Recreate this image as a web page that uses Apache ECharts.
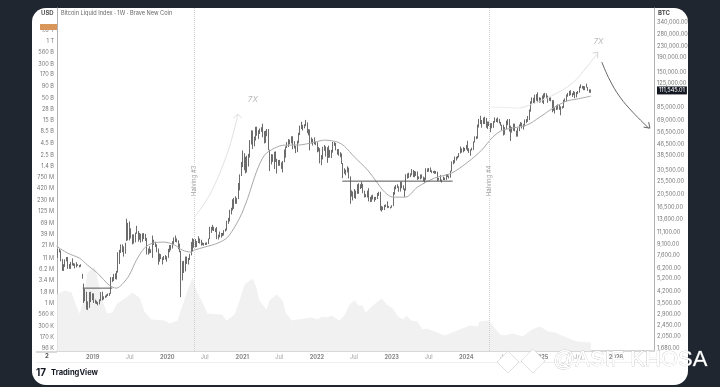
<!DOCTYPE html>
<html>
<head>
<meta charset="utf-8">
<style>
html, body { margin: 0; padding: 0; background: #1f2630; }
#box { width: 720px; height: 387px; filter: blur(0.55px); }
</style>
<script src="https://cdn.jsdelivr.net/npm/echarts@6/dist/echarts.min.js"></script>
</head>
<body>
<div id="box"></div>
<script>
// weekly bars, one value per week from the week of 2018-07-16
var firstWeek = Date.UTC(2018, 6, 16);
var firstOpen = 7400;
var weekClose = [
    // 2018
    8220,8170,7030,6310,6480,7050,7270,6250,6490,6700,6620,6590,6300,6540,6480,6370,6350,5560,4000,4100,3200,3240,3980,3700,
    // 2019
    4030,3510,3540,3530,3460,3660,3670,3800,3820,3920,3990,3980,4100,5060,5160,5310,5280,5770,6990,8000,8740,8700,7970,8980,10700,10800,
    11480,10190,10300,9530,10820,11280,10300,10130,9630,10400,10310,10030,8040,7990,8270,8230,9530,9200,9040,8500,7050,7420,7510,7060,7190,7320,
    // 2020
    7410,8180,8700,8600,9340,10160,9930,9670,8530,8040,5360,5830,5920,6770,6910,7130,7700,8900,8750,9670,8790,9450,9760,9330,9300,9120,
    9070,9300,9210,9930,11050,11680,11910,11650,11710,10280,10330,10920,10770,10670,11380,11500,13030,13740,15480,15960,18680,18180,19150,19270,23000,26270,
    // 2021
    32200,38200,35800,32300,33100,38900,48900,57500,45200,51000,59000,57500,55800,58200,59800,56200,49000,56600,58200,46400,34700,34600,35800,39000,35600,34500,
    35300,34300,31500,35400,39900,43800,47000,49300,48800,51800,45200,47300,43200,48200,54700,61500,60900,61300,63300,65500,58700,57200,49400,50100,46700,50800,
    // 2022
    47700,41900,43100,36300,37900,42400,42200,38400,37700,38400,37800,41300,46800,46000,42200,39700,39500,38500,34000,31300,30300,29500,29900,26600,20600,21000,
    19300,20800,20800,22600,23300,23200,24300,21500,19600,20000,21800,19400,18800,19000,19400,19300,19600,20600,20900,16300,16300,16400,17100,17100,16800,16800,
    // 2023
    16600,17100,20900,22700,23800,23000,21800,24300,23600,22400,22100,28000,27900,28500,28300,30300,27600,29200,28900,26900,26800,28100,27100,25900,26300,30500,
    30600,30300,30250,30000,29300,29000,29300,26200,26000,25900,25800,26500,26300,28000,27900,27100,29900,34500,35000,37100,37400,37500,39500,43800,41400,43000,42300,
    // 2024
    44000,41800,41600,42000,43000,48300,51600,51700,63100,69000,68400,67200,71300,69400,65700,64900,63100,64000,61500,66900,68500,67800,69600,66600,64300,62700,
    58200,60800,68200,68300,58100,58700,58400,64200,57300,54800,59200,63400,65600,62800,62900,69000,67000,68800,80400,89800,97700,96400,101200,104500,95100,93700,
    // 2025
    98300,94500,101100,102600,100600,96500,96100,96300,94200,80700,82600,86000,82400,78200,83700,85200,93800,94300,104100,106400,109000,105700,105700,105500,100900,108400,
    109200,119000,117300,119400,114200,119300,117500,113500,108300,111545
];
var weekHigh = [
    // 2018
    8480,8450,8240,7150,6580,7120,7400,7400,6600,6830,7230,6700,6650,6800,6580,6500,6580,5620,4800,4400,4200,3590,4180,4200,
    // 2019
    4100,4090,3700,3630,3560,3720,4180,4210,3900,3950,4030,4080,4130,5340,5330,5620,5670,5900,8000,8320,9080,9090,8800,9330,13800,12900,
    13200,11800,10700,10700,11000,12300,11300,10950,10800,10900,10920,10780,10100,8500,8800,8400,10500,9800,9500,9100,8500,7830,7750,7370,7520,7630,
    // 2020
    7500,8450,9000,8990,9570,10170,10500,10030,9700,9190,8180,6900,6950,7450,7460,7300,7780,9460,10050,9900,9900,9600,10380,10000,9800,9380,
    9300,9350,9400,10000,12100,12080,12480,12100,11800,12050,10650,11200,10950,10950,11450,11750,13350,14000,15960,16500,18950,19400,19900,19400,24700,28400,
    // 2021
    34800,41950,40100,37850,38500,39700,49700,58350,58000,52600,61700,61800,58400,60000,61300,64900,57500,57900,59500,59500,42500,39500,39400,41100,41300,36600,
    35950,35950,34600,35400,42600,44800,48100,50500,50100,52900,52900,48800,45200,49200,56000,62900,67000,63700,64300,69000,66300,59400,59100,51900,50700,51900,
    // 2022
    48500,47900,44400,43500,38900,44500,45800,44800,44200,45400,42400,42300,48200,48100,47400,42900,42900,40800,40000,34200,31400,30700,32400,31700,27500,21900,
    21500,22400,21800,24200,24600,24200,25200,24400,21800,20600,21800,22700,19700,20200,20400,19700,19700,21000,21400,21400,17000,16800,17300,17400,18300,17000,
    // 2023
    16800,17200,21300,23300,23900,24200,23400,25200,25200,23800,22600,28500,28900,29200,28900,31000,30500,30000,29800,29800,27500,28400,28400,27400,27000,31400,
    31300,31500,31800,30400,30000,30200,30000,29700,26800,28100,26100,27400,27000,28600,28600,27900,30200,35100,35900,38000,37900,38400,40200,44700,43400,44300,43800,
    // 2024
    45900,49100,43500,42800,43900,48600,52800,52900,64000,70100,73800,68900,71700,72700,71300,67200,67200,65500,65500,67700,71900,70600,71900,70100,66800,63800,
    63800,61300,68300,70000,70000,62800,61500,65000,64900,58000,60600,64100,66500,66000,64400,69500,70000,73600,81800,93500,99500,98900,104000,105000,108300,99900,
    // 2025
    99000,102700,106000,107200,106400,102500,99500,99500,95200,95000,84500,87400,88800,88500,86100,86400,95800,97900,104400,107100,110800,112000,106800,110500,109000,108800,
    110500,119000,123200,120200,119800,119300,124500,117700,113600,113400
];
var weekLow = [
    // 2018
    7300,7980,6900,5900,5900,6300,6900,6100,6100,6100,6450,6400,6150,6250,6400,6250,6300,5200,3500,3600,3150,3120,3230,3550,
    // 2019
    3660,3500,3470,3440,3370,3420,3610,3650,3700,3800,3840,3920,3930,4060,4920,5000,5160,5120,5740,6600,7900,8000,7450,7800,9600,9700,
    9700,10000,9100,9200,9400,10800,9500,9800,9350,9500,9900,9600,7700,7700,7850,7900,7300,9000,8700,8000,6530,6850,7150,6550,7050,7100,
    // 2020
    6850,7300,8000,8250,8500,9100,9450,9400,8400,8000,3850,5050,5700,5850,6600,6550,7050,7600,8100,8600,8650,8700,9300,9200,8900,8980,
    8900,9000,9000,9150,9900,10950,11400,11300,11100,9900,9850,10200,10150,10400,10500,11200,11400,12700,13200,14800,15800,16200,17600,17600,19000,21900,
    // 2021
    27700,32000,30400,28900,29300,32300,37400,46200,43000,44900,49300,53300,50500,54900,56800,52000,47000,47500,52900,42100,30000,33400,34800,31000,34800,28800,
    32700,32700,31100,29300,34600,37300,43700,44400,46400,47100,42800,43400,40200,40800,47100,53900,59500,58000,60200,62300,55600,53600,42000,47100,45500,46400,
    // 2022
    45700,40700,41200,34000,33000,36300,41700,38000,34300,37200,37300,37100,40500,45200,42000,39200,38500,37600,33700,26700,28700,28000,29300,26600,17600,19800,
    18600,19300,19100,20700,20700,22400,22700,20900,19500,19600,19500,18300,18100,18200,18900,18200,18700,19000,20000,15800,15500,15900,15900,16700,16400,16500,
    // 2023
    16300,16500,17000,20400,22300,22800,21400,21500,22700,22100,19600,21800,26500,26800,27200,28000,27200,27100,27700,26000,26300,26200,26600,25400,24800,26000,
    29500,29700,29500,29000,29000,28700,28700,25400,25800,25400,24900,25900,25900,26000,27200,26600,26900,29800,33500,34100,35600,36700,37500,39900,40500,40700,41500,
    // 2024
    42600,41500,40300,38500,41900,42300,47800,50500,50900,61000,64500,60800,64500,64500,60700,59600,62400,56500,60200,60700,66000,66600,66100,65100,62800,58400,
    53500,54300,59600,63400,57100,49000,56100,57800,57200,52500,52600,57500,62500,60000,58900,62000,65500,66800,68800,78900,90000,90800,90500,94300,92200,91400,
    // 2025
    92000,91200,89300,99500,97800,91200,94100,93300,78200,80000,76600,81100,81600,81300,74400,83000,83900,92800,93500,100700,102100,103100,100400,103400,98200,99600,
    105100,107500,115700,114700,111900,112000,116800,110700,107300,107300
];

// moving average line
var maLine = [
    ['2018-07-08',8833],['2018-09-01',7880],['2018-10-29',7260],['2018-12-07',6480],['2019-01-25',5686],['2019-03-23',4680],
    ['2019-04-27',4457],['2019-05-26',4755],['2019-06-29',5504],['2019-08-03',7028],['2019-09-11',8550],['2019-10-20',9273],
    ['2019-12-18',9425],['2020-02-06',8975],['2020-03-15',8275],['2020-04-28',8010],['2020-05-12',8275],['2020-07-01',8690],
    ['2020-09-03',9273],['2020-10-22',10225],['2020-12-19',13930],['2021-01-28',19300],['2021-03-11',29480],['2021-04-20',38890],
    ['2021-06-08',43585],['2021-07-26',45770],['2021-09-29',45770],['2021-12-21',48060],['2022-02-09',49650],['2022-04-12',48060],
    ['2022-05-15',45000],['2022-07-04',37640],['2022-09-06',30450],['2022-10-24',24640],['2022-11-28',21280],['2023-01-07',19620],
    ['2023-03-10',19620],['2023-05-07',23090],['2023-07-29',26730],['2023-10-21',29000],['2024-01-08',34700],['2024-03-16',42190],
    ['2024-05-09',52140],['2024-06-27',58440],['2024-10-22',63400],['2024-12-25',72220],['2025-02-28',83630],['2025-05-05',93730],
    ['2025-06-24',96830],['2025-09-01',101680]
];

// liquidity area on the left scale
var liquidity = [
    ['2018-07-12',1600000],['2018-08-17',1980000],['2018-09-20',1780000],['2018-10-14',850000],['2018-10-29',590000],['2018-11-14',1000000],
    ['2018-12-07',5110000],['2019-01-11',6900000],['2019-01-25',3730000],['2019-02-18',1170000],['2019-03-13',590000],['2019-04-07',623000],
    ['2019-05-01',1000000],['2019-06-15',1370000],['2019-07-14',1780000],['2019-08-18',1370000],['2019-09-11',660000],['2019-10-15',431000],
    ['2019-12-18',409000],['2020-01-12',349000],['2020-02-20',409000],['2020-03-10',769000],['2020-04-09',1980000],['2020-05-03',3930000],
    ['2020-05-22',1980000],['2020-06-16',1170000],['2020-07-15',590000],['2020-09-23',561000],['2020-10-17',409000],['2020-11-25',561000],
    ['2020-12-19',1170000],['2021-01-13',2720000],['2021-02-22',3730000],['2021-03-11',2320000],['2021-03-26',1170000],['2021-04-30',729000],
    ['2021-05-14',1170000],['2021-06-18',1600000],['2021-07-17',1170000],['2021-08-01',623000],['2021-08-31',409000],['2021-09-29',431000],
    ['2021-12-07',479000],['2022-01-05',431000],['2022-01-25',505000],['2022-02-19',479000],['2022-03-13',532000],['2022-04-21',409000],
    ['2022-05-15',532000],['2022-06-09',949000],['2022-07-04',1170000],['2022-07-23',900000],['2022-08-12',900000],['2022-08-27',623000],
    ['2022-10-01',900000],['2022-11-14',1300000],['2022-12-08',949000],['2023-01-07',769000],['2023-02-01',505000],['2023-02-25',431000],
    ['2023-03-14',532000],['2023-04-08',409000],['2023-05-07',388000],['2023-06-01',254000],['2023-06-21',268000],['2023-07-29',229000],
    ['2023-09-17',186000],['2023-12-01',254000],['2024-01-18',314000],['2024-02-27',298000],['2024-03-06',388000],['2024-04-19',409000],
    ['2024-05-09',314000],['2024-06-13',196000],['2024-07-07',186000],['2024-08-15',206000],['2024-10-03',176000],['2024-11-16',254000],
    ['2024-12-25',298000],['2025-02-04',229000],['2025-03-08',217000],['2025-05-05',167000],['2025-06-24',135000],['2025-09-01',128000]
];

// hand drawn notes on the chart
var leftCurve = [['2020-05-12',14160],['2020-07-01',17790],['2020-08-19',23850],['2020-10-22',40830],['2020-11-25',60370],['2020-12-10',74610]];
var leftHead = [['2020-11-20',71050],['2020-12-10',75830],['2020-12-29',71050]];
var rightFlat = [['2024-05-04',85000],['2024-09-18',83630]];
var rightCurve = [['2024-09-18',83630],['2024-11-07',88040],['2025-02-28',103350],['2025-06-02',125660],['2025-08-11',163100],['2025-10-04',204900]];
var rightHead = [['2025-09-10',204900],['2025-10-04',208300],['2025-10-04',188850]];
var dropCurve = [['2025-10-24',176900],['2025-12-02',131960],['2026-01-21',100040],['2026-03-24',78350],['2026-06-10',60370]];
var dropHead = [['2026-05-16',61365],['2026-06-16',60370],['2026-06-10',66570]];
var boxLow = [['2018-11-14',4457],['2019-04-07',4457]];
var boxMid = [['2022-05-05',25460],['2023-10-26',25460]];
var sevenX = [['2021-02-22',96830],['2025-10-08',245400]];
var halvings = [['2020-05-11',25600,'Halving #3'],['2024-04-20',25600,'Halving #4']];

// axis ticks
var priceNow = 111545;
var priceTicks = [340000,280000,230000,190000,150000,125000,priceNow,85000,69000,56500,46500,38500,30500,25500,20500,16500,13600,11100,9100,7600,6200,5200,4200,3500,2900,2450,2050,1680];
var liquidityTicks = [1.8e12,1e12,560e9,300e9,170e9,90e9,50e9,28e9,15e9,8.5e9,4.5e9,2.5e9,1.4e9,750e6,420e6,230e6,125e6,69e6,39e6,21e6,11e6,6.2e6,3.4e6,1.8e6,1e6,560e3,300e3,170e3,96e3];
var timeTicks = [['2019-01-01','2019'],['2019-07-01','Jul'],['2020-01-01','2020'],['2020-07-01','Jul'],['2021-01-01','2021'],['2021-07-01','Jul'],['2022-01-01','2022'],['2022-07-01','Jul'],['2023-01-01','2023'],['2023-07-01','Jul'],['2024-01-01','2024'],['2024-07-01','Jul'],['2025-01-01','2025'],['2025-07-01','Jul'],['2026-01-01','2026']];
var axisFloor = 1601;

var myChart = echarts.init(document.getElementById('box'));

var bars = [];
for (var i = 0; i < weekClose.length; i++) {
    bars.push([firstWeek + i * 604800000, i ? weekClose[i - 1] : firstOpen, weekClose[i], weekLow[i], weekHigh[i]]);
}

function note(data, color, width, type, smooth) {
    return {
        type: 'line',
        data: data,
        showSymbol: false,
        symbol: 'none',
        smooth: smooth || false,
        silent: true,
        lineStyle: { color: color, width: width, type: type || 'solid' },
        z: 4
    };
}

function liquidityLabel(v) {
    if (v >= 1e12) return +(v / 1e12).toFixed(1) + ' T';
    if (v >= 1e9) return +(v / 1e9).toFixed(1) + ' B';
    if (v >= 1e6) return +(v / 1e6).toFixed(1) + ' M';
    return Math.round(v / 1e3) + ' K';
}

function priceLabel(v) {
    if (Math.abs(v - priceNow) < 1) return '{now|111,545.01}';
    return '{tick|' + Math.round(v).toLocaleString('en-US') + '.00}';
}

var font = 'Inter, "Liberation Sans", sans-serif';

var option = {
    animation: false,
    useUTC: true,
    backgroundColor: '#1f2630',
    textStyle: { fontFamily: font },
    grid: { left: 57, right: 66, top: 8, bottom: 36 },
    xAxis: {
        type: 'time',
        min: Date.UTC(2018, 6, 11),
        max: Date.UTC(2026, 6, 6),
        axisLine: { show: true, lineStyle: { color: '#d8d8d8', width: 2 } },
        axisTick: { show: false },
        splitLine: { show: false },
        axisLabel: { show: false }
    },
    yAxis: [{
        type: 'log',
        position: 'right',
        min: axisFloor,
        max: 427000,
        axisLine: { show: true, lineStyle: { color: '#b0b0b0', width: 1 } },
        axisTick: { show: false },
        splitLine: { show: false },
        axisLabel: {
            customValues: priceTicks,
            hideOverlap: false,
            margin: 3,
            formatter: priceLabel,
            rich: {
                tick: { fontSize: 5.6, color: '#777' },
                now: { fontSize: 5.6, color: '#fff', backgroundColor: '#131722', padding: [1, 2] }
            }
        }
    }, {
        type: 'log',
        position: 'left',
        min: 82000,
        max: 5.68e12,
        axisLine: { show: true, lineStyle: { color: '#b0b0b0', width: 1 } },
        axisTick: { show: false },
        splitLine: { show: false },
        axisLabel: {
            customValues: liquidityTicks,
            hideOverlap: false,
            margin: 3,
            fontSize: 5.6,
            color: '#777',
            formatter: liquidityLabel
        }
    }],
    series: [
        {
            type: 'line',
            yAxisIndex: 1,
            data: liquidity,
            symbol: 'none',
            showSymbol: false,
            silent: true,
            lineStyle: { width: 0 },
            areaStyle: { color: '#f1f1f1', opacity: 1, origin: 'start' },
            z: 1
        },
        {
            type: 'line',
            data: maLine,
            symbol: 'none',
            showSymbol: false,
            smooth: 0.3,
            silent: true,
            lineStyle: { color: '#a8a8a8', width: 1 },
            z: 3
        },
        {
            type: 'candlestick',
            data: bars,
            encode: { x: 0, y: [1, 2, 3, 4] },
            barWidth: 1,
            silent: true,
            itemStyle: { color: '#9c9c9c', color0: '#9c9c9c', borderColor: '#6c6c6c', borderColor0: '#6c6c6c', borderWidth: 1 },
            markLine: {
                silent: true,
                symbol: 'none',
                label: { show: false },
                lineStyle: { color: '#d0d0d0', width: 1, type: 'dotted' },
                data: [{ xAxis: halvings[0][0] }, { xAxis: halvings[1][0] }]
            },
            z: 2
        },
        note(leftCurve, '#e2e2e2', 1, 'solid', 0.4),
        note(leftHead, '#dcdcdc', 1),
        note(rightFlat, '#dcdcdc', 1, 'dotted'),
        note(rightCurve, '#e2e2e2', 1, 'solid', 0.4),
        note(rightHead, '#d4d4d4', 1),
        note(dropCurve, '#666', 1, 'solid', 0.4),
        note(dropHead, '#666', 1),
        note(boxLow, '#555', 1),
        note(boxMid, '#555', 1),
        {
            type: 'scatter',
            data: sevenX,
            symbolSize: 0,
            silent: true,
            z: 5,
            label: {
                show: true,
                position: 'inside',
                formatter: '7X',
                fontSize: 8,
                fontStyle: 'italic',
                color: '#aaa'
            }
        },
        {
            type: 'scatter',
            data: halvings,
            symbolSize: 0,
            silent: true,
            z: 5,
            label: {
                show: true,
                position: 'inside',
                rotate: 90,
                formatter: function (p) { return p.value[2]; },
                fontSize: 6,
                color: '#888',
                backgroundColor: '#fff',
                padding: [0, 1]
            }
        },
        {
            // the time axis labels, the axis itself can't mix custom ticks and a formatter
            type: 'scatter',
            data: timeTicks.map(function (t) { return [t[0], axisFloor, t[1]]; }),
            symbolSize: 0,
            silent: true,
            clip: false,
            z: 5,
            label: {
                show: true,
                position: 'bottom',
                distance: 3,
                formatter: function (p) {
                    return p.value[2] === 'Jul' ? '{m|Jul}' : '{y|' + p.value[2] + '}';
                },
                rich: {
                    m: { fontSize: 5.6, color: '#888' },
                    y: { fontSize: 5.6, fontWeight: 'bold', color: '#666' }
                }
            }
        }
    ],
    graphic: [
        { type: 'rect', z: -10, shape: { x: 32, y: 8, width: 656, height: 377, r: 14 }, style: { fill: '#fff' } },
        { type: 'rect', z: 6, shape: { x: 40, y: 24, width: 17, height: 6 }, style: { fill: '#d9965a' } },
        { type: 'line', z: 1, shape: { x1: 36, y1: 352, x2: 57, y2: 352 }, style: { stroke: '#d8d8d8', lineWidth: 2 } },
        { type: 'line', z: 1, shape: { x1: 36, y1: 362.5, x2: 670, y2: 362.5 }, style: { stroke: '#efefef', lineWidth: 1 } },
        { type: 'text', z: 6, x: 41, y: 10, style: { text: 'USD', fontSize: 6, fontWeight: 'bold', fill: '#555', fontFamily: font } },
        { type: 'text', z: 6, x: 61, y: 10, style: { text: 'Bitcoin Liquid Index \u00b7 1W \u00b7 Brave New Coin', fontSize: 5.6, fill: '#666', fontFamily: font } },
        { type: 'text', z: 6, x: 658, y: 10, style: { text: 'BTC', fontSize: 6, fontWeight: 'bold', fill: '#444', fontFamily: font } },
        { type: 'text', z: 6, x: 45, y: 353, style: { text: '2', fontSize: 6, fontWeight: 'bold', fill: '#555', fontFamily: font } },
        { type: 'text', z: 6, x: 36, y: 368, style: { text: '17', fontSize: 10, fontWeight: 'bold', fill: '#131722', fontFamily: font } },
        { type: 'text', z: 6, x: 51, y: 369, style: { text: 'TradingView', fontSize: 7.6, fontWeight: 'bold', fill: '#131722', fontFamily: font } },
        { type: 'polygon', z: 20, shape: { points: [[508, 351], [519, 362], [508, 373], [497, 362]] }, style: { fill: '#fff', stroke: '#ccc', lineWidth: 0.6 } },
        { type: 'polygon', z: 20, shape: { points: [[533, 349], [545, 361], [533, 373], [521, 361]] }, style: { fill: '#fff', stroke: '#ccc', lineWidth: 0.6 } },
        { type: 'text', z: 20, x: 553, y: 349, style: { text: '@ASIF KHOSA', fontSize: 22, fill: '#fff', stroke: '#aaa', lineWidth: 0.4, fontFamily: '"Liberation Sans", sans-serif' } }
    ]
};

myChart.setOption(option);
</script>
</body>
</html>
